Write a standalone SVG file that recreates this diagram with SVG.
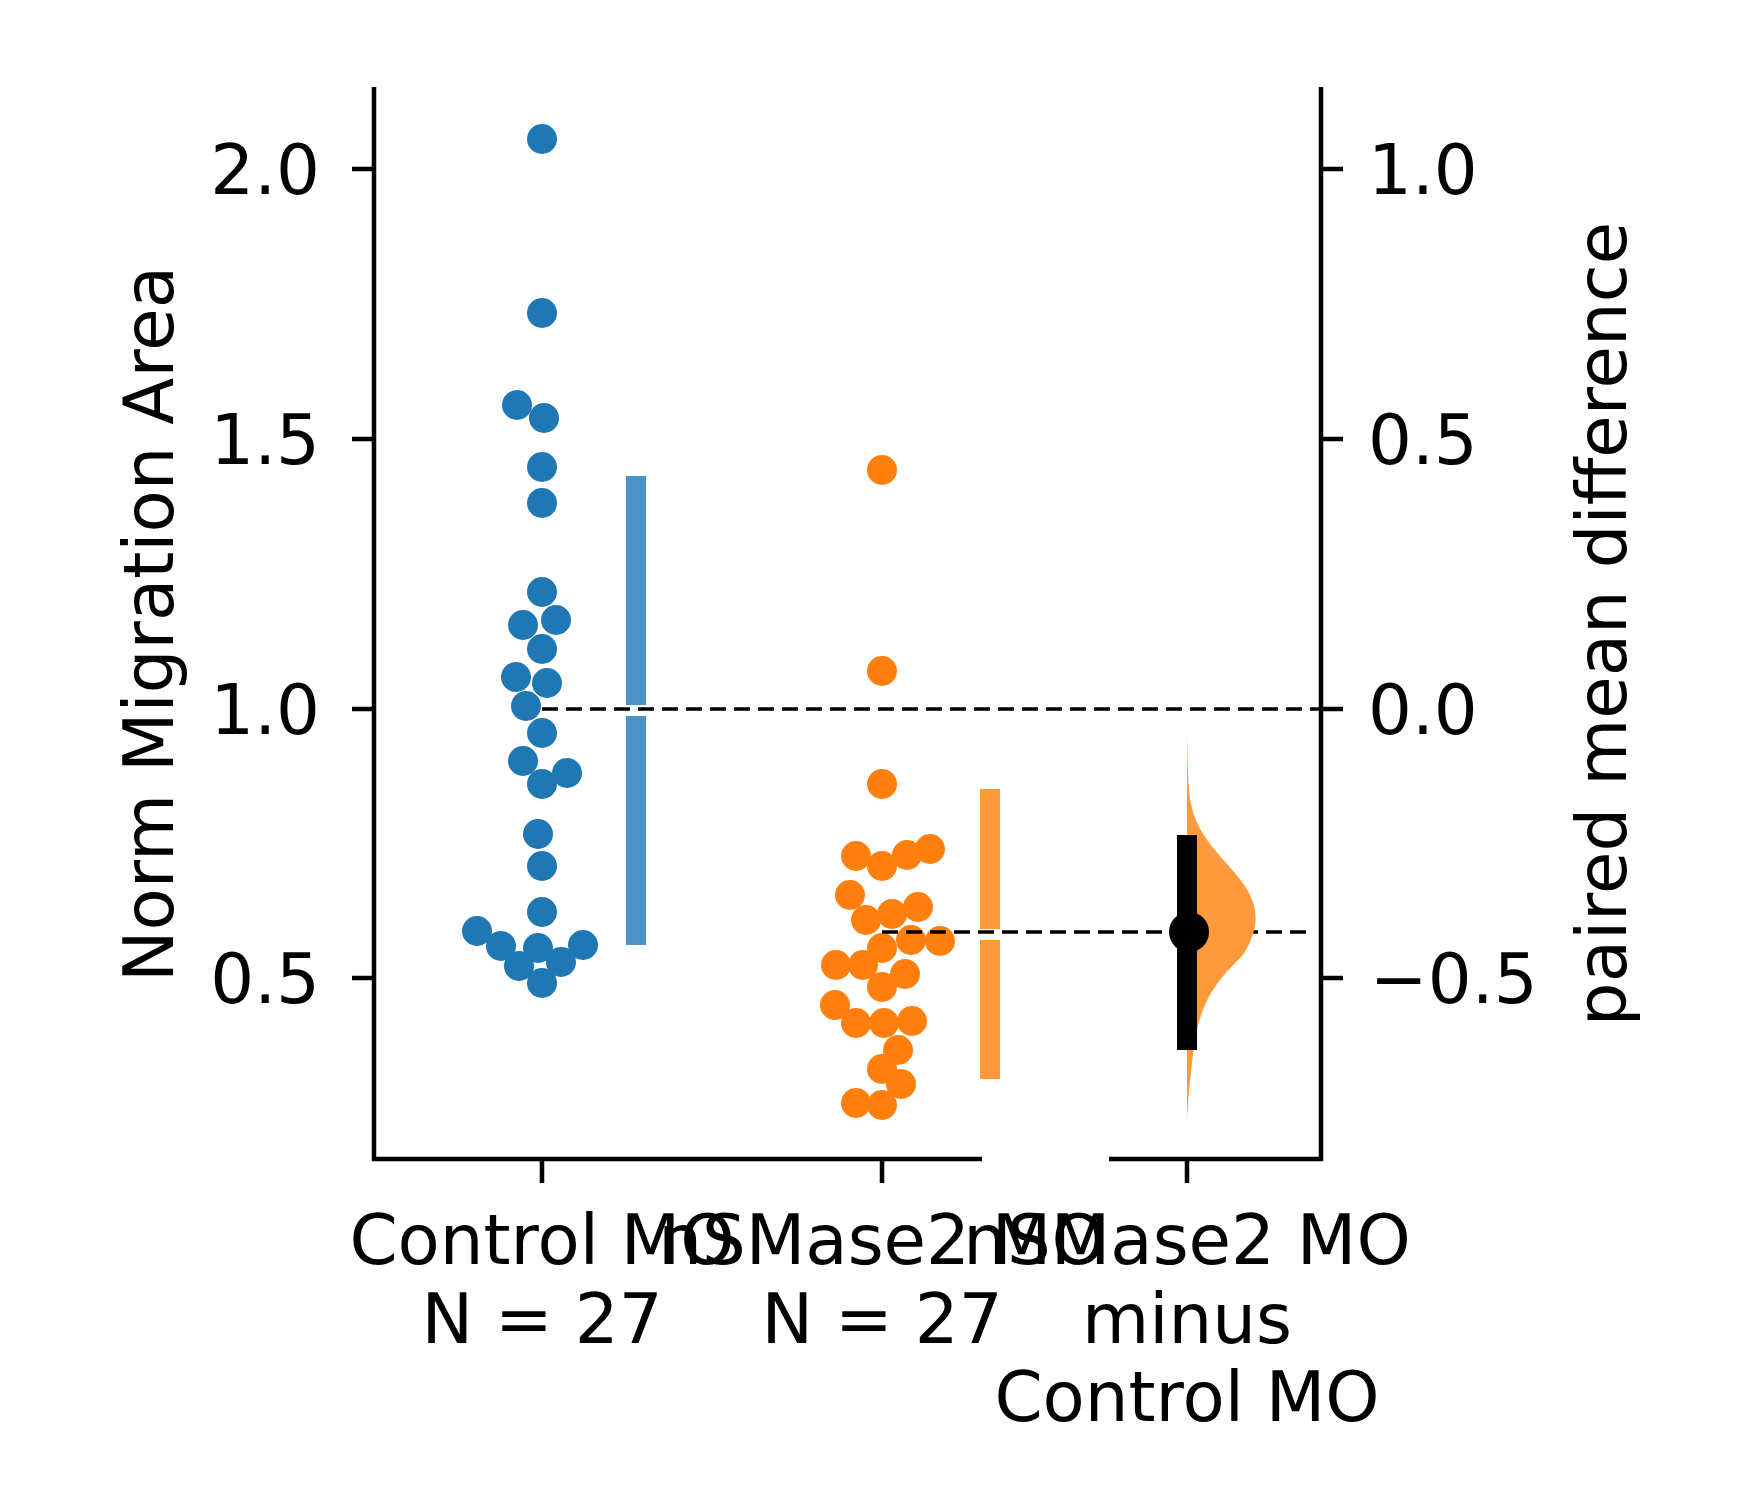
<svg xmlns="http://www.w3.org/2000/svg" width="1750" height="1500" viewBox="0 0 1750 1500">
<style>
text{font-family:"DejaVu Sans",sans-serif;font-size:69px;fill:#000}
.ax{stroke:#000;stroke-width:4.5;fill:none}
.b{fill:#1f77b4}.o{fill:#ff7f0e}
.d{stroke:#000;stroke-width:3.5;stroke-dasharray:16,8;fill:none}
</style>
<rect width="1750" height="1500" fill="#fff"/>
<g id="axes">
<path class="ax" d="M374,87V1161M372,1159H982M1109,1159H1323M1321,87V1161"/>
<path class="ax" d="M374,169h-22M374,439h-22M374,709h-22M374,978h-22M1321,169h22M1321,439h22M1321,709h22M1321,978h22M542,1159v24M882,1159v24M1187,1159v24"/>
<g text-anchor="end"><text x="320" y="194">2.0</text><text x="320" y="464">1.5</text><text x="320" y="734">1.0</text><text x="320" y="1003">0.5</text></g>
<g><text x="1368" y="194">1.0</text><text x="1368" y="464">0.5</text><text x="1368" y="734">0.0</text><text x="1370" y="1003">−0.5</text></g>
<text transform="translate(173,624) rotate(-90)" text-anchor="middle">Norm Migration Area</text>
<text transform="translate(1626,624) rotate(-90)" text-anchor="middle">paired mean difference</text>
<g text-anchor="middle"><text x="542" y="1264">Control MO</text><text x="542" y="1343">N = 27</text>
<text x="882" y="1264">nSMase2 MO</text><text x="882" y="1343">N = 27</text>
<text x="1187" y="1264">nSMase2 MO</text><text x="1187" y="1343">minus</text><text x="1187" y="1421">Control MO</text></g>
</g>
<g id="control" class="b" transform="translate(-2,0)">
<circle cx="544" cy="139" r="15"/><circle cx="544" cy="313" r="15"/><circle cx="519" cy="405" r="15"/><circle cx="546" cy="418" r="15"/><circle cx="544" cy="467" r="15"/><circle cx="544" cy="503" r="15"/><circle cx="544" cy="592" r="15"/><circle cx="525" cy="625" r="15"/><circle cx="558" cy="620" r="15"/><circle cx="544" cy="649" r="15"/><circle cx="518" cy="677" r="15"/><circle cx="549" cy="683" r="15"/><circle cx="528" cy="706" r="15"/><circle cx="544" cy="733" r="15"/><circle cx="525" cy="761" r="15"/><circle cx="569" cy="773" r="15"/><circle cx="544" cy="784" r="15"/><circle cx="540" cy="834" r="15"/><circle cx="544" cy="866" r="15"/><circle cx="544" cy="912" r="15"/><circle cx="479" cy="931" r="15"/><circle cx="503" cy="946" r="15"/><circle cx="521" cy="966" r="15"/><circle cx="540" cy="948" r="15"/><circle cx="563" cy="962" r="15"/><circle cx="585" cy="945" r="15"/><circle cx="544" cy="983" r="15"/>
<path d="M628,476h20v229h-20zM628,716h20v229h-20z" fill="#4a93c4"/>
</g>
<g id="nsmase" class="o" transform="translate(-2,0)">
<circle cx="884" cy="470" r="15"/><circle cx="884" cy="671" r="15"/><circle cx="884" cy="784" r="15"/><circle cx="858" cy="856" r="15"/><circle cx="884" cy="866" r="15"/><circle cx="909" cy="855" r="15"/><circle cx="932" cy="849" r="15"/><circle cx="852" cy="895" r="15"/><circle cx="868" cy="920" r="15"/><circle cx="894" cy="914" r="15"/><circle cx="920" cy="907" r="15"/><circle cx="884" cy="948" r="15"/><circle cx="913" cy="940" r="15"/><circle cx="942" cy="941" r="15"/><circle cx="838" cy="965" r="15"/><circle cx="865" cy="965" r="15"/><circle cx="884" cy="987" r="15"/><circle cx="907" cy="974" r="15"/><circle cx="837" cy="1005" r="15"/><circle cx="858" cy="1023" r="15"/><circle cx="886" cy="1023" r="15"/><circle cx="914" cy="1021" r="15"/><circle cx="900" cy="1050" r="15"/><circle cx="884" cy="1069" r="15"/><circle cx="903" cy="1084" r="15"/><circle cx="858" cy="1103" r="15"/><circle cx="884" cy="1105" r="15"/>
<path d="M982,789h20v140h-20zM982,940h20v139h-20z" fill="#ff9a3c"/>
</g>
<g id="connectors">
<path class="d" d="M542,709H1321M882,932H1312"/>
</g>
<g id="effect" transform="translate(-2,0)">
<path d="M1189,735C1190,770 1189,800 1198,820C1210,850 1240,870 1252,895C1262,915 1258,935 1245,955C1225,975 1210,990 1200,1025C1193,1060 1190,1100 1189,1122Z" fill="#ff9a3c"/>
<rect x="1179" y="835" width="20" height="215" fill="#000"/>
<circle cx="1191" cy="932" r="20" fill="#000"/>
</g>
</svg>
